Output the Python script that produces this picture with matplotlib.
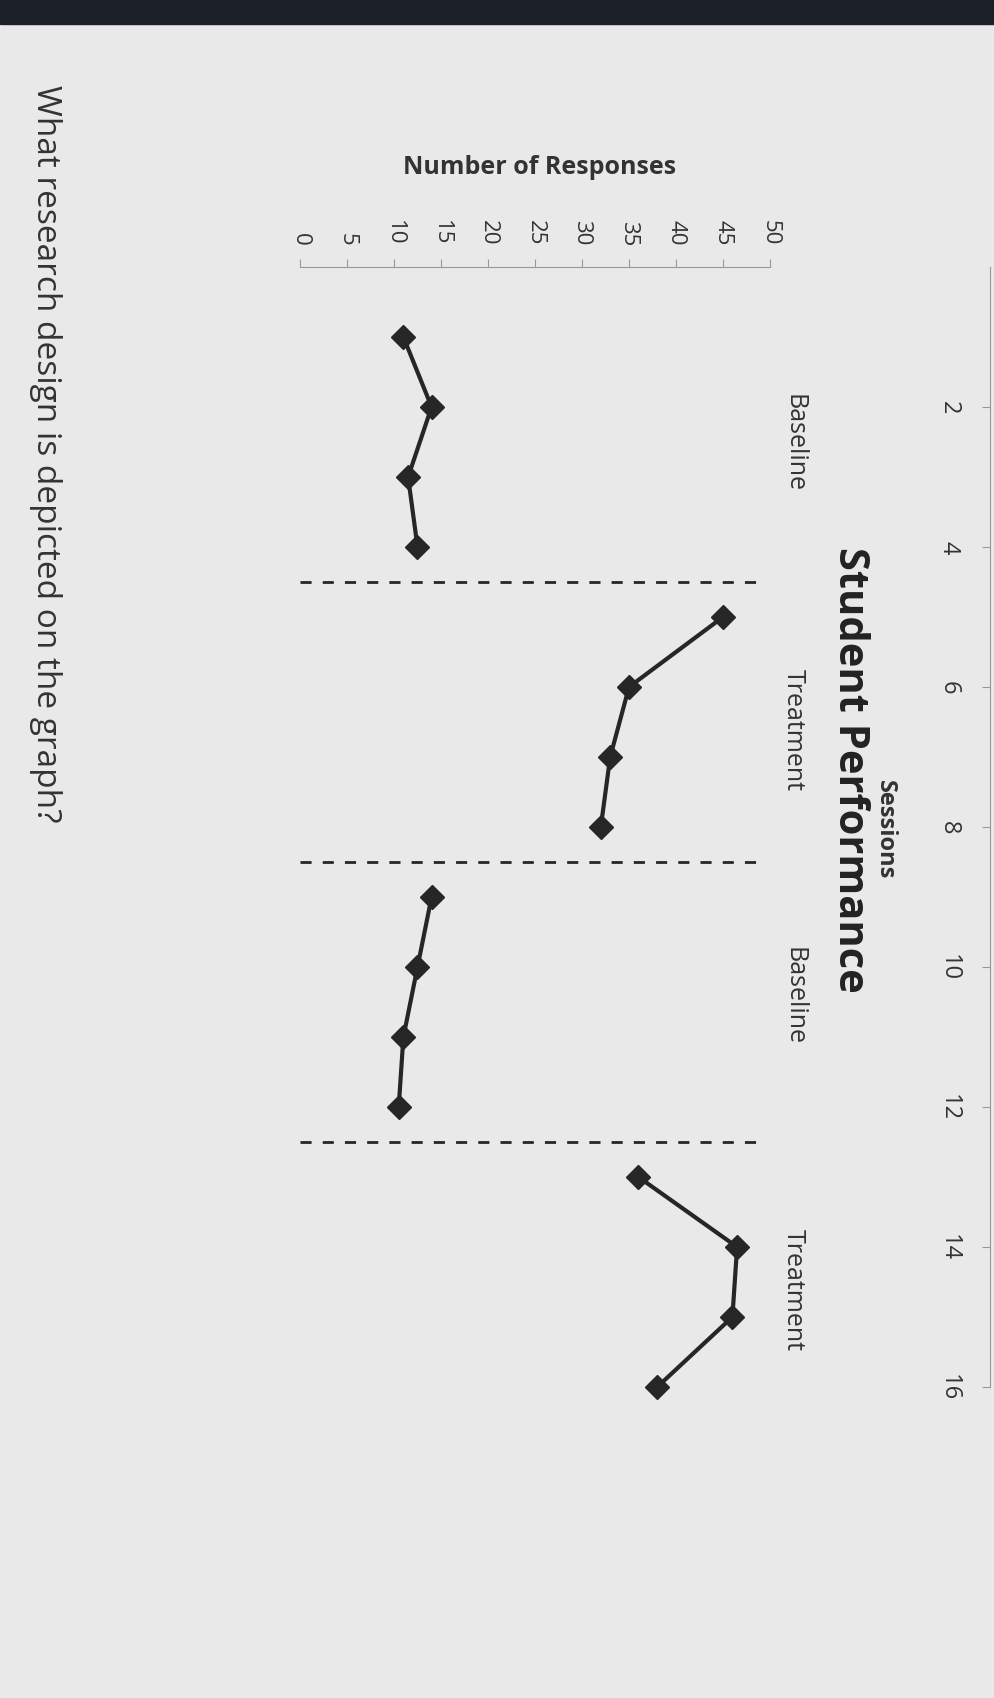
import matplotlib
matplotlib.use("Agg")
import matplotlib.pyplot as plt
import numpy as np

plt.rcParams['font.family'] = ['Open Sans', 'DejaVu Sans']

sessions = [[1, 2, 3, 4], [5, 6, 7, 8], [9, 10, 11, 12], [13, 14, 15, 16]]
responses = [[11, 14, 11.5, 12.5], [45, 35, 33, 32], [14, 12.5, 11, 10.5], [36, 46.5, 46, 38]]
phase_labels = ["Baseline", "Treatment", "Baseline", "Treatment"]
phase_centers = [2.5, 6.6, 10.4, 14.6]
phase_breaks = [4.5, 8.5, 12.5]
resp_ticks = list(range(0, 55, 5))
sess_ticks = [2, 4, 6, 8, 10, 12, 14, 16]

W, H = 995, 1699
fig = plt.figure(figsize=(W/100, H/100), dpi=100, facecolor='#e9e9e9')
fig.patches.append(plt.Rectangle((0, 1-25/H), 1, 25/H, transform=fig.transFigure, color='#1c2127'))

def fx(x): return x / W
def fy(y): return 1 - y / H

xmax = (990-300)/470*50
ax = fig.add_axes([fx(300), fy(1388), fx(990)-fx(300), fy(268)-fy(1388)])
ax.set_facecolor('none')
ax.set_xlim(0, xmax)
ax.set_ylim(16, 0)

for s, r in zip(sessions, responses):
    ax.plot(r, s, color='#262626', lw=3, marker='D', ms=12, clip_on=False)
for b in phase_breaks:
    ax.plot([0, 49], [b, b], color='#262626', lw=2, ls=(0, (4, 4)))
for c, lab in zip(phase_centers, phase_labels):
    ax.text(52.5, c, lab, rotation=-90, ha='center', va='center', fontsize=18, color='#333')

for sp in ['left', 'bottom']:
    ax.spines[sp].set_visible(False)
ax.spines['top'].set_bounds(0, 50)
ax.spines['top'].set_color('#999')
ax.spines['right'].set_color('#999')
ax.xaxis.tick_top()
ax.set_xticks(resp_ticks)
ax.set_xticklabels([str(t) for t in resp_ticks], rotation=-90, fontsize=16, color='#333')
ax.tick_params(axis='x', direction='out', length=6, color='#999', pad=10)
ax.set_yticks(sess_ticks)
ax.yaxis.tick_right()
ax.tick_params(axis='y', direction='in', length=6, color='#999', labelright=False)
for t in sess_ticks:
    ax.text(69, t, str(t), rotation=-90, ha='center', va='center', fontsize=17, color='#333')

fig.text(fx(850), fy(770), "Student Performance", rotation=-90, ha='center', va='center',
         fontsize=30, fontweight='bold', color='#222')
fig.text(fx(885), fy(830), "Sessions", rotation=-90, ha='center', va='center',
         fontsize=17, fontweight='bold', color='#333')
fig.text(fx(540), fy(168), "Number of Responses", rotation=0, ha='center', va='center',
         fontsize=18, fontweight='bold', color='#333')
fig.text(fx(45), fy(85), "What research design is depicted on the graph?", rotation=-90,
         ha='center', va='top', fontsize=24, color='#333')

fig.savefig('out.png', dpi=100, facecolor=fig.get_facecolor())
